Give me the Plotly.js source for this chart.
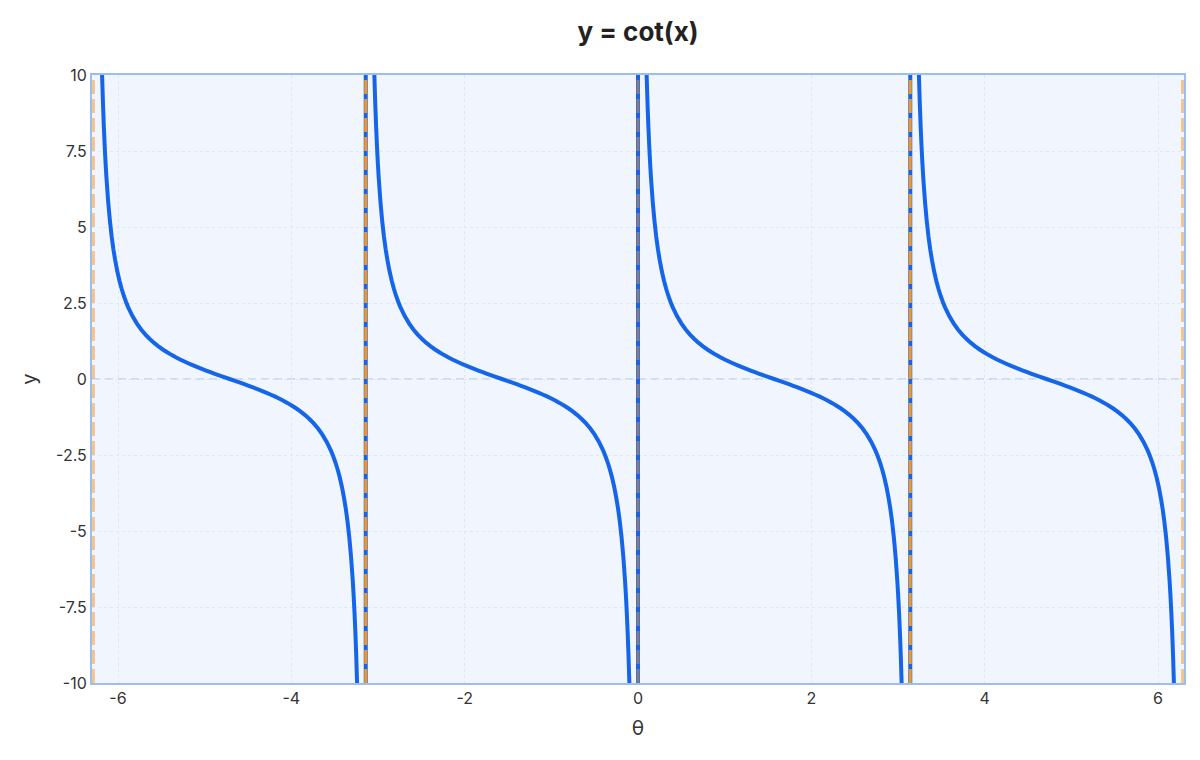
<!DOCTYPE html>
<html>
<head>
<meta charset="utf-8">
<script src="https://cdn.plot.ly/plotly-3.0.1.min.js"></script>
<style>html,body{margin:0;padding:0;background:#fff;}#chart{width:1200px;height:760px;}</style>
</head>
<body>
<div id="chart"></div>
<script>
// Left edge of each branch of cot(x) (asymptote positions), in radians
const branchStarts = [-6.2832, -3.1416, 0, 3.1416];
// θ measured from the left asymptote of a branch, and cot(θ) there (same for every branch)
const thetaOffsets = [0.0001, 0.1, 0.11, 0.12, 0.13, 0.14, 0.15, 0.17, 0.19, 0.21, 0.23, 0.25, 0.275, 0.3, 0.325, 0.35, 0.375, 0.4, 0.45, 0.5, 0.55, 0.6, 0.65, 0.7, 0.75, 0.8, 0.85, 0.9, 0.95, 1.0, 1.05, 1.1, 1.15, 1.2, 1.25, 1.3, 1.35, 1.4, 1.45, 1.5, 1.5708,
  1.6416, 1.6916, 1.7416, 1.7916, 1.8416, 1.8916, 1.9416, 1.9916, 2.0416, 2.0916, 2.1416, 2.1916, 2.2416, 2.2916, 2.3416, 2.3916, 2.4416, 2.4916, 2.5416, 2.5916, 2.6416, 2.6916, 2.7416, 2.7666, 2.7916, 2.8166, 2.8416, 2.8666, 2.8916, 2.9116, 2.9316, 2.9516, 2.9716, 2.9916, 3.0016, 3.0116, 3.0216, 3.0316, 3.0416, 3.1415];
const cotValues = [10000, 9.9666, 9.0542, 8.2933, 7.6490, 7.0960, 6.6166, 5.8255, 5.1992, 4.6907, 4.2694, 3.9163, 3.5439, 3.2327, 2.9686, 2.7395, 2.5405, 2.3652, 2.0702, 1.8305, 1.6310, 1.4617, 1.3154, 1.1872, 1.0734, 0.9712, 0.8788, 0.7936, 0.7151, 0.6421, 0.5736, 0.5090, 0.4476, 0.3888, 0.3323, 0.2776, 0.2245, 0.1725, 0.1214, 0.0709, 0,
  -0.0709, -0.1214, -0.1725, -0.2245, -0.2776, -0.3323, -0.3888, -0.4476, -0.5090, -0.5736, -0.6421, -0.7151, -0.7936, -0.8788, -0.9712, -1.0734, -1.1872, -1.3154, -1.4617, -1.6310, -1.8305, -2.0702, -2.3652, -2.5405, -2.7395, -2.9686, -3.2327, -3.5439, -3.9163, -4.2694, -4.6907, -5.1992, -5.8255, -6.6166, -7.0960, -7.6490, -8.2933, -9.0542, -9.9666, -10000];

const asymptotes = [-6.2832, -3.1416, 0, 3.1416, 6.2832];
const xTickVals = [-6, -4, -2, 0, 2, 4, 6];
const xTickText = ['-6', '-4', '-2', '0', '2', '4', '6'];
const yTickVals = [-10, -7.5, -5, -2.5, 0, 2.5, 5, 7.5, 10];
const yTickText = ['-10', '-7.5', '-5', '-2.5', '0', '2.5', '5', '7.5', '10'];

const FONT = 'Inter, "Open Sans", sans-serif';

const theta = [], cot = [];
branchStarts.forEach(s => {
  thetaOffsets.forEach((t, i) => { theta.push(s + t); cot.push(cotValues[i]); });
});

const traces = [{
  type: 'scatter', mode: 'lines',
  x: theta, y: cot,
  line: {color: '#1565eb', width: 4, simplify: false},
  hoverinfo: 'x+y', showlegend: false
}];

const shapes = [{
  type: 'line', xref: 'paper', yref: 'y', x0: 0, x1: 1, y0: 0, y1: 0,
  layer: 'below', line: {color: '#bdd3f5', width: 1.5, dash: '8px,5px'}
}];
asymptotes.forEach(a => {
  const faint = Math.abs(a) < 1e-6 || Math.abs(Math.abs(a) - 6.2832) < 1e-3;
  shapes.push({
    type: 'line', xref: 'x', yref: 'paper', x0: a, x1: a, y0: 0, y1: 1,
    layer: 'above', opacity: faint ? 0.5 : 1,
    line: {color: '#f5961e', width: 3, dash: '14px,5px'}
  });
});

const layout = {
  width: 1200, height: 760,
  margin: {l: 92, r: 16, t: 75, b: 77},
  paper_bgcolor: '#ffffff', plot_bgcolor: '#f1f6fe',
  font: {family: FONT, color: '#333', size: 16},
  title: {text: '<b>y = cot(x)</b>', x: 0.5, xref: 'paper', xanchor: 'center', y: 0.958, yanchor: 'middle',
          font: {family: FONT, size: 26, color: '#222'}},
  xaxis: {
    range: [-6.3, 6.3], tickvals: xTickVals, ticktext: xTickText, ticks: '', showgrid: true,
    gridcolor: '#dfe7f4', griddash: 'dot', gridwidth: 1, zeroline: false,
    showline: true, linecolor: '#9bbdf0', linewidth: 2, mirror: true,
    tickfont: {size: 16, color: '#333'},
    title: {text: 'θ', font: {size: 20, color: '#333'}, standoff: 14}
  },
  yaxis: {
    range: [-10, 10], tickvals: yTickVals, ticktext: yTickText, ticks: '', showgrid: true,
    gridcolor: '#dfe7f4', griddash: 'dot', gridwidth: 1, zeroline: false,
    showline: true, linecolor: '#9bbdf0', linewidth: 2, mirror: true,
    tickfont: {size: 16, color: '#333'},
    title: {text: 'y', font: {size: 20, color: '#333'}, standoff: 14}
  },
  shapes: shapes
};

Plotly.newPlot('chart', traces, layout, {displayModeBar: false, staticPlot: true});
</script>
</body>
</html>
